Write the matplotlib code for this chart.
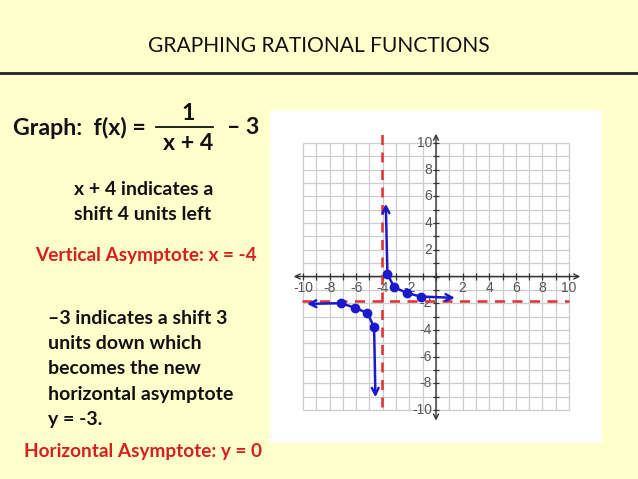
import matplotlib
matplotlib.use("Agg")
import matplotlib.pyplot as plt
from matplotlib.lines import Line2D

# ---- data ----
upper_x = [-3.65, -3.15, -2.15, -1.15]
upper_y = [0.2, -0.8, -1.25, -1.5]
upper_arrow_start = (-3.77, 5.45)
upper_arrow_end = (1.42, -1.6)

lower_x = [-7.15, -6.05, -5.15, -4.65]
lower_y = [-2.0, -2.35, -2.75, -3.8]
lower_arrow_start = (-9.7, -2.05)
lower_arrow_end = (-4.55, -9.05)

v_asym_x = -4.05
v_asym_span = (-9.75, 11.0)
h_asym_y = -1.8
h_asym_span = (-10.1, 10.0)

x_tick_labels = [-10, -8, -6, -4, -2, 2, 4, 6, 8, 10]
y_tick_labels = [10, 8, 6, 4, 2, -2, -4, -6, -8, -10]
grid_values = list(range(-10, 11))

W, H = 638, 479
BG = "#FFFFCC"
RED = "#D42020"
BLUE = "#1a1acc"
FONT = "Lato"


def fx(x):
    return x / W


def fy(y):
    return 1 - y / H


fig = plt.figure(figsize=(W / 100, H / 100), dpi=100, facecolor=BG)

# title and rule
fig.text(fx(319), fy(46), "GRAPHING RATIONAL FUNCTIONS", ha="center", va="center",
         fontsize=15.1, family=FONT, color="#111111")
fig.add_artist(Line2D([0, 1], [fy(73), fy(73)], color="#222222", lw=2,
                      transform=fig.transFigure))

# formula
bold = dict(family=FONT, fontweight="bold", color="#111111", fontsize=16.7)
fig.text(fx(13), fy(128), "Graph:  f(x) =", ha="left", va="center", **bold)
fig.text(fx(188), fy(113), "1", ha="center", va="center", **bold)
fig.add_artist(Line2D([fx(156), fx(213)], [fy(127), fy(127)], color="#111111", lw=1.3,
                      transform=fig.transFigure))
fig.text(fx(188), fy(144), "x + 4", ha="center", va="center", **bold)
fig.text(fx(227), fy(128), "\u2013 3", ha="left", va="center", **bold)

body = dict(family=FONT, fontweight="bold", color="#111111", fontsize=14)
fig.text(fx(74), fy(190), "x + 4 indicates a", ha="left", va="center", **body)
fig.text(fx(74), fy(215), "shift 4 units left", ha="left", va="center", **body)

red = dict(family=FONT, fontweight="bold", color=RED, fontsize=13.7)
fig.text(fx(35), fy(256), "Vertical Asymptote: x = -4", ha="left", va="center", **red)

lines = ["\u20133 indicates a shift 3", "units down which", "becomes the new",
         "horizontal asymptote", "y = -3."]
for i, t in enumerate(lines):
    fig.text(fx(48), fy(318 + 25.5 * i), t, ha="left", va="center", **body)

fig.text(fx(24), fy(452), "Horizontal Asymptote: y = 0", ha="left", va="center", **red)

# graph panel
ax = fig.add_axes([fx(270), fy(443), (602 - 270) / W, (443 - 110) / H])
ax.set_facecolor("white")
ax.set_xlim(-12.47, 12.47)
ax.set_ylim(-12.47, 12.47)
for s in ax.spines.values():
    s.set_visible(False)
ax.set_xticks([])
ax.set_yticks([])

ax.vlines(grid_values, -10, 10, color="#cccccc", lw=0.9, zorder=1)
ax.hlines(grid_values, -10, 10, color="#cccccc", lw=0.9, zorder=1)

axis_col = "#333333"
ax.annotate("", xy=(11.05, 0), xytext=(-10.9, 0),
            arrowprops=dict(arrowstyle="<->", color=axis_col, lw=1.0, mutation_scale=9),
            zorder=2)
ax.annotate("", xy=(0, 10.9), xytext=(0, -11.0),
            arrowprops=dict(arrowstyle="<->", color=axis_col, lw=1.0, mutation_scale=9),
            zorder=2)
ax.vlines(grid_values, -0.25, 0.25, color=axis_col, lw=0.9, zorder=2)
ax.hlines(grid_values, -0.25, 0.25, color=axis_col, lw=0.9, zorder=2)

lab = dict(family="Liberation Sans", fontsize=10, color="#555555")
for v in x_tick_labels:
    ax.text(v, -0.87, str(v), ha="center", va="center", zorder=3, **lab)
for v in y_tick_labels:
    ax.text(-0.3, v, str(v), ha="right", va="center", zorder=3, **lab)

# asymptotes
ax.plot([v_asym_x, v_asym_x], v_asym_span, color="#e03030", lw=1.8, ls=(0, (4, 3)), zorder=3)
ax.plot(h_asym_span, [h_asym_y, h_asym_y], color="#e03030", lw=1.8, ls=(0, (4, 3)), zorder=3)

# curve branches
ax.plot(upper_x, upper_y, color=BLUE, lw=1.8, marker="o", ms=6, zorder=4)
ax.plot(lower_x, lower_y, color=BLUE, lw=1.8, marker="o", ms=6, zorder=4)
arrow = dict(arrowstyle="->", color=BLUE, lw=1.8, mutation_scale=12, shrinkA=0, shrinkB=0)
ax.annotate("", xy=upper_arrow_start, xytext=(upper_x[0], upper_y[0]), arrowprops=arrow, zorder=4)
ax.annotate("", xy=upper_arrow_end, xytext=(upper_x[-1], upper_y[-1]), arrowprops=arrow, zorder=4)
ax.annotate("", xy=lower_arrow_start, xytext=(lower_x[0], lower_y[0]), arrowprops=arrow, zorder=4)
ax.annotate("", xy=lower_arrow_end, xytext=(lower_x[-1], lower_y[-1]), arrowprops=arrow, zorder=4)

fig.savefig("out.png", dpi=100, facecolor=BG)
